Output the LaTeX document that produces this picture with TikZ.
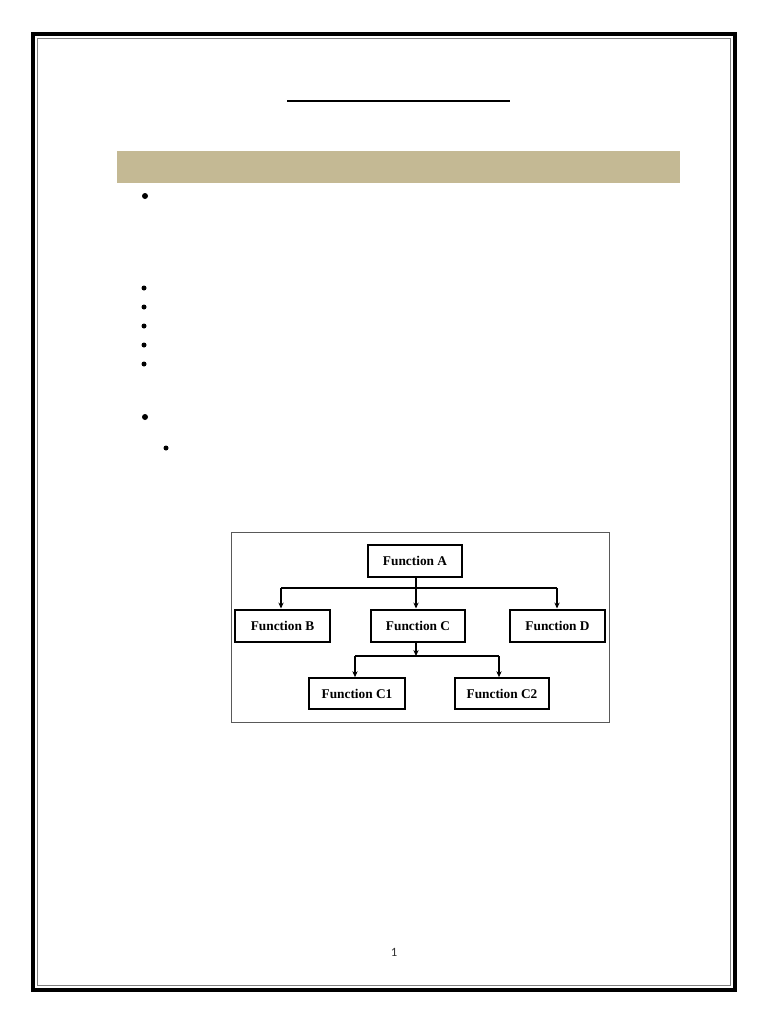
\documentclass[tikz,border=0pt]{standalone}
\usepackage{fontspec}
\setmainfont{Liberation Serif}
\newfontfamily\calib{Carlito}
\usetikzlibrary{arrows.meta}
\definecolor{barcol}{RGB}{196,185,148}
\tikzset{
  fbox/.style={draw=black, line width=1.5pt, fill=white, inner sep=0pt,
    minimum height=24pt, font=\fontsize{10}{12}\selectfont\bfseries},
  conn/.style={line width=0.9pt},
  arr/.style={conn, -{Stealth[length=4.5pt,width=4pt]}},
  bigdot/.style={fill=black, draw=none},
}
\begin{document}
\begin{tikzpicture}[x=0.75pt, y=-0.75pt]
\useasboundingbox (0,0) rectangle (768,1024);
% page border
\draw[line width=3pt] (33,34) rectangle (735,990);
\draw[line width=0.7pt, gray] (37.5,38.5) rectangle (730.5,985.5);
% header rule
\draw[line width=1.9pt] (287,101) -- (510,101);
% coloured bar
\fill[barcol] (117,151) rectangle (680,183);
% bullets
\fill[bigdot] (145,196) circle (3);
\foreach \yy in {288,307,326,345,364}{\fill[bigdot] (144,\yy) circle (2.5);}
\fill[bigdot] (145,417) circle (3);
\fill[bigdot] (166,448) circle (2.5);
% diagram frame
\draw[line width=0.6pt, gray!70!black] (231.5,532.5) rectangle (609.5,722.5);
% nodes
\node[fbox, minimum width=70.5pt] (A) at (415,561) {Function A};
\node[fbox, minimum width=71pt] (B) at (282.5,625.5) {Function B};
\node[fbox, minimum width=70.5pt] (C) at (418,625.5) {Function C};
\node[fbox, minimum width=71pt] (D) at (557.5,625.5) {Function D};
\node[fbox, minimum width=72pt, minimum height=23pt] (C1) at (357,693.5) {Function C1};
\node[fbox, minimum width=70.5pt, minimum height=23pt] (C2) at (502,693.5) {Function C2};
% connectors
\coordinate (j1) at (416,588);
\coordinate (j1l) at (281,588);
\coordinate (j1r) at (557,588);
\draw[conn] (A.south -| j1) -- (j1);
\draw[conn] (j1l) -- (j1r);
\draw[arr] (j1l) -- (j1l |- B.north);
\draw[arr] (j1) -- (j1 |- C.north);
\draw[arr] (j1r) -- (j1r |- D.north);
\coordinate (j2) at (416,656);
\coordinate (j2l) at (355,656);
\coordinate (j2r) at (499,656);
\draw[arr] (C.south -| j2) -- (j2);
\draw[conn] (j2l) -- (j2r);
\draw[arr] (j2l) -- (j2l |- C1.north);
\draw[arr] (j2r) -- (j2r |- C2.north);
% page number
\node[font=\calib\fontsize{9.5}{11}\selectfont, text=black!80] (pn) at (394,952) {1};
\end{tikzpicture}
\end{document}
